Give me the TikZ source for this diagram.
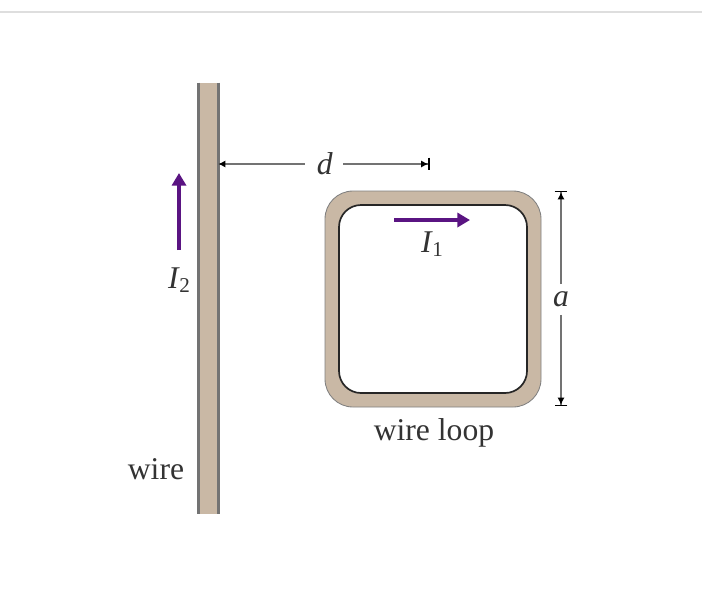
\documentclass[tikz,border=0pt]{standalone}
\usepackage{fontspec}
\setmainfont{Liberation Serif}
\usepackage{xcolor}
\usetikzlibrary{arrows.meta, positioning}

\definecolor{wiretan}{HTML}{C9B8A5}
\definecolor{currentpurple}{HTML}{5A1482}

\newcommand{\curlabel}[1]{\textit{I}\kern-0.02em\raisebox{-0.32ex}{\fontsize{15}{15}\selectfont #1}}

\tikzset{
	label text/.style = {font=\fontsize{22.5}{24}\selectfont, text=black!80, inner sep=0pt},
	wire body/.style = {fill=wiretan, inner sep=0pt, minimum width=0.475cm, minimum height=10.775cm},
	wire edge/.style = {draw=black!55, line width=1.8pt},
	current/.style = {draw=currentpurple, line width=2.2pt, -{Triangle[length=9pt, width=10pt]}},
	measure/.style = {draw=black!55, line width=0.9pt},
	measure end/.style = {measure, -{Latex[length=5pt, width=5pt, black]Bar[width=9pt, black]}}
}

\begin{document}
\begin{tikzpicture}[x=0.025cm, y=-0.025cm]
	\useasboundingbox (0,0) rectangle (702,594);
	
	\coordinate (ruleL) at (0,12);
	\coordinate (ruleR) at (702,12);
	\draw [draw=black!13, line width=0.8pt] (ruleL) -- (ruleR);
	
	% long wire
	\node [wire body] (wire) at (208.5,298.5) {};
	\draw [wire edge] (wire.north west) -- (wire.south west);
	\draw [wire edge] (wire.north east) -- (wire.south east);
	\node [label text] (wireText) at (156,469) {wire};
	
	% square loop
	\draw [fill=wiretan, draw=black!50, line width=0.6pt, rounded corners=0.7cm]
	(325,191) rectangle (541,407);
	\draw [fill=white, draw=black!85, line width=1.2pt, rounded corners=0.55cm]
	(339,205) rectangle (527,393);
	\node [label text] (loopText) at (434,433) {wire loop};
	
	% currents
	\coordinate (I2start) at (179,250);
	\coordinate (I2end) at (179,173);
	\coordinate (I1start) at (394,220);
	\coordinate (I1end) at (470,220);
	\draw [current] (I2start) -- (I2end);
	\draw [current] (I1start) -- (I1end);
	\node [label text] (I2) at (179,280) {\curlabel{2}};
	\node [label text] (I1) at (432,244) {\curlabel{1}};
	
	% distance d
	\node [label text, minimum width=0.95cm, minimum height=0.6cm] (d) at (324,164) {\kern1pt\textit{d}};
	\coordinate (dL) at (wire.east |- d);
	\coordinate (dR) at (429.5,164);
	\draw [measure, {Latex[length=5pt, width=5pt, black]}-] (dL) -- (d.west);
	\draw [measure end] (d.east) -- (dR);
	
	% side a
	\node [label text, minimum width=0.5cm, minimum height=0.75cm] (a) at (561,299.5) {\textit{a}};
	\coordinate (aT) at (561,191);
	\coordinate (aB) at (561,406);
	\draw [measure end] (a.north) -- (aT);
	\draw [measure end] (a.south) -- (aB);
\end{tikzpicture}
\end{document}
